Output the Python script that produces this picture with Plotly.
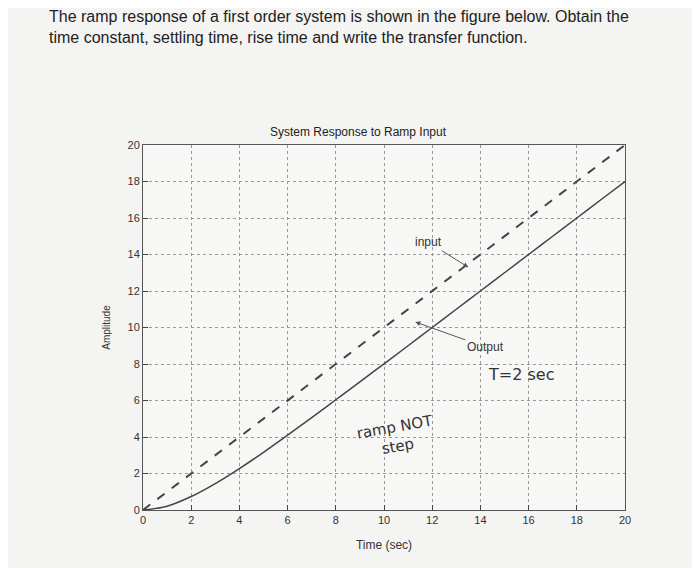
import plotly.graph_objects as go

time = [0,1,2,3,4,5,6,7,8,9,10,11,12,13,14,15,16,17,18,19,20]
input_vals = [0,1,2,3,4,5,6,7,8,9,10,11,12,13,14,15,16,17,18,19,20]
output_vals = [0,0.21,0.74,1.45,2.27,3.16,4.1,5.06,6.04,7.02,8.01,9.0,10.0,11.0,12.0,13.0,14.0,15.0,16.0,17.0,18.0]

fig = go.Figure()
fig.add_trace(go.Scatter(x=time, y=input_vals, mode="lines",
                         line=dict(color="#444", width=2, dash="dash"), name="input"))
fig.add_trace(go.Scatter(x=time, y=output_vals, mode="lines", line_shape="spline",
                         line=dict(color="#444", width=1.5), name="output"))

fig.update_layout(
    width=700, height=568, showlegend=False,
    paper_bgcolor="#f4f4f2", plot_bgcolor="#f7f7f5",
    margin=dict(l=135, r=83, t=137, b=66),
    font=dict(family="Liberation Sans", color="#333", size=11),
    title=dict(text="System Response to Ramp Input", x=0.5, y=0.79, xanchor="center",
               font=dict(size=12, color="#222")),
    xaxis=dict(range=[0,20], dtick=2, showgrid=True, gridcolor="#999", griddash="dot",
               zeroline=False, showline=True, linecolor="#555", mirror=True, ticks="inside",
               title=dict(text="Time (sec)", font=dict(size=12))),
    yaxis=dict(range=[0,20], dtick=2, showgrid=True, gridcolor="#999", griddash="dot",
               zeroline=False, showline=True, linecolor="#555", mirror=True, ticks="inside",
               title=dict(text="Amplitude", font=dict(size=10))),
)
fig.add_annotation(text="The ramp response of a first order system is shown in the figure below. Obtain the<br>time constant, settling time, rise time and write the transfer function.",
                   xref="paper", yref="paper", x=-0.2, y=1.38, xanchor="left", yanchor="top",
                   showarrow=False, align="left", font=dict(size=16, color="#222"))
fig.add_annotation(text="input", x=13.5, y=13.3, ax=-40, ay=-25, arrowhead=2,
                   showarrow=True, arrowcolor="#555", font=dict(size=12))
fig.add_annotation(text="Output", x=11.3, y=10.3, ax=70, ay=25, arrowhead=2,
                   showarrow=True, arrowcolor="#555", font=dict(size=12))
fig.add_annotation(text="T=2 sec", x=15.7, y=7.4, showarrow=False,
                   font=dict(size=16, color="#333", family="DejaVu Sans"))
fig.add_annotation(text="ramp NOT<br>step", x=10.5, y=4.0, showarrow=False,
                   font=dict(size=15, color="#333", family="DejaVu Sans"), textangle=-10)
fig.write_html("out.html")
